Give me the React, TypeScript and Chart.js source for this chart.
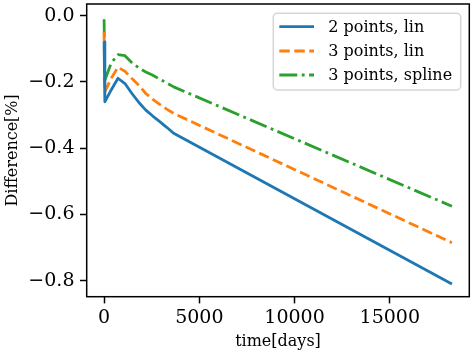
import React, { useEffect, useRef } from "react";
import { Chart, registerables } from "chart.js";

Chart.register(...registerables);

const timeDays = [0, 40, 365, 730, 1095, 1461, 1826, 2191, 2556, 2922, 3287, 3652, 18262];
const twoPointsLin = [-0.079, -0.26, -0.225, -0.189, -0.205, -0.235, -0.262, -0.285, -0.303, -0.32, -0.337, -0.355, -0.81];
const threePointsLin = [-0.049, -0.23, -0.19, -0.156, -0.168, -0.19, -0.21, -0.235, -0.253, -0.268, -0.282, -0.295, -0.685];
const threePointsSpline = [-0.011, -0.195, -0.144, -0.118, -0.121, -0.142, -0.158, -0.17, -0.18, -0.192, -0.203, -0.215, -0.575];
const seriesLabels = ["2 points, lin", "3 points, lin", "3 points, spline"];
const seriesColors = ["#1f77b4", "#ff7f0e", "#2ca02c"];
const seriesDashes: number[][] = [[], [10.5, 4.5], [18, 4.5, 2.8, 4.5]];
const xTicks = [0, 5000, 10000, 15000];
const yTicks = [0, -0.2, -0.4, -0.6, -0.8];
const xTitle = "time[days]";
const yTitle = "Difference[%]";

const FONT = "'DejaVu Serif', serif";

const frameLegendPlugin = {
  id: "frameLegend",
  afterDraw(chart: any) {
    const ctx = chart.ctx;
    const a = chart.chartArea;
    ctx.save();
    // frame
    ctx.strokeStyle = "#000";
    ctx.lineWidth = 1.5;
    ctx.setLineDash([]);
    ctx.strokeRect(a.left, a.top, a.right - a.left, a.bottom - a.top);
    // legend
    const bw = 187.4;
    const bh = 76.7;
    const bx = a.right - 8.6 - bw;
    const by = a.top + 9.3;
    const r = 4;
    ctx.beginPath();
    ctx.moveTo(bx + r, by);
    ctx.lineTo(bx + bw - r, by);
    ctx.arcTo(bx + bw, by, bx + bw, by + r, r);
    ctx.lineTo(bx + bw, by + bh - r);
    ctx.arcTo(bx + bw, by + bh, bx + bw - r, by + bh, r);
    ctx.lineTo(bx + r, by + bh);
    ctx.arcTo(bx, by + bh, bx, by + bh - r, r);
    ctx.lineTo(bx, by + r);
    ctx.arcTo(bx, by, bx + r, by, r);
    ctx.closePath();
    ctx.fillStyle = "rgba(255,255,255,0.8)";
    ctx.fill();
    ctx.strokeStyle = "rgba(204,204,204,0.8)";
    ctx.lineWidth = 1.5;
    ctx.stroke();
    const rows = [13.4, 37.7, 61.7];
    chart.data.datasets.forEach((ds: any, i: number) => {
      const y = by + rows[i];
      ctx.beginPath();
      ctx.setLineDash(ds.borderDash || []);
      ctx.strokeStyle = ds.borderColor;
      ctx.lineWidth = ds.borderWidth;
      ctx.lineCap = "butt";
      ctx.moveTo(bx + 6, y);
      ctx.lineTo(bx + 40.7, y);
      ctx.stroke();
      ctx.setLineDash([]);
      ctx.fillStyle = "#000";
      ctx.font = `16px ${FONT}`;
      ctx.textBaseline = "middle";
      ctx.textAlign = "left";
      ctx.fillText(ds.label, bx + 55, y + 1);
    });
    ctx.restore();
  },
};

function fmtY(v: number) {
  const s = Math.abs(v) < 1e-9 ? "0.0" : v.toFixed(1);
  return s.replace("-", "\u2212");
}

export default function App() {
  const ref = useRef<HTMLCanvasElement | null>(null);
  useEffect(() => {
    if (!ref.current) return;
    const series = [twoPointsLin, threePointsLin, threePointsSpline];
    const chart = new Chart(ref.current, {
      type: "line",
      data: {
        datasets: series.map((vals, i) => ({
          label: seriesLabels[i],
          data: timeDays.map((t, j) => ({ x: t, y: vals[j] })),
          borderColor: seriesColors[i],
          backgroundColor: seriesColors[i],
          borderWidth: 2.8,
          borderDash: seriesDashes[i],
          borderCapStyle: "butt",
          borderJoinStyle: "round",
          pointRadius: 0,
          tension: 0,
          fill: false,
        })),
      },
      options: {
        responsive: false,
        animation: false,
        events: [],
        layout: { padding: { left: 0, top: 4, right: 4.7, bottom: 0 } },
        plugins: { legend: { display: false }, tooltip: { enabled: false } },
        scales: {
          x: {
            type: "linear",
            min: -913,
            max: 19175,
            afterBuildTicks: (s: any) => {
              s.ticks = xTicks.map((v) => ({ value: v }));
            },
            afterFit: (s: any) => {
              s.height = 58.3;
              s.paddingLeft = 0;
              s.paddingRight = 0;
            },
            border: { display: false },
            grid: {
              display: true,
              drawOnChartArea: false,
              drawTicks: true,
              tickLength: 6.7,
              tickWidth: 1.5,
              tickColor: "#000",
              color: "#000",
            },
            ticks: {
              color: "#000",
              font: { family: FONT, size: 19 },
              padding: 3,
              maxRotation: 0,
              autoSkip: false,
              callback: (v: any) => String(v),
            },
            title: {
              display: true,
              text: xTitle,
              color: "#000",
              font: { family: FONT, size: 16 },
              padding: { top: 0, bottom: 3.4 },
            },
          },
          y: {
            type: "linear",
            min: -0.848,
            max: 0.035,
            afterBuildTicks: (s: any) => {
              s.ticks = yTicks.map((v) => ({ value: v }));
            },
            afterFit: (s: any) => {
              s.width = 86.7;
              s.paddingTop = 0;
              s.paddingBottom = 0;
            },
            border: { display: false },
            grid: {
              display: true,
              drawOnChartArea: false,
              drawTicks: true,
              tickLength: 6.7,
              tickWidth: 1.5,
              tickColor: "#000",
              color: "#000",
            },
            ticks: {
              color: "#000",
              font: { family: FONT, size: 19 },
              padding: 5.5,
              autoSkip: false,
              callback: (v: any) => fmtY(Number(v)),
            },
            title: {
              display: true,
              text: yTitle,
              color: "#000",
              font: { family: FONT, size: 16 },
              padding: { top: 3.2, bottom: 0 },
            },
          },
        },
      },
      plugins: [frameLegendPlugin],
    } as any);
    return () => chart.destroy();
  }, []);
  return (
    <div style={{ position: "fixed", left: 0, top: 0, width: 474, height: 355, background: "#fff" }}>
      <canvas ref={ref} width={474} height={355} style={{ display: "block" }} />
    </div>
  );
}
